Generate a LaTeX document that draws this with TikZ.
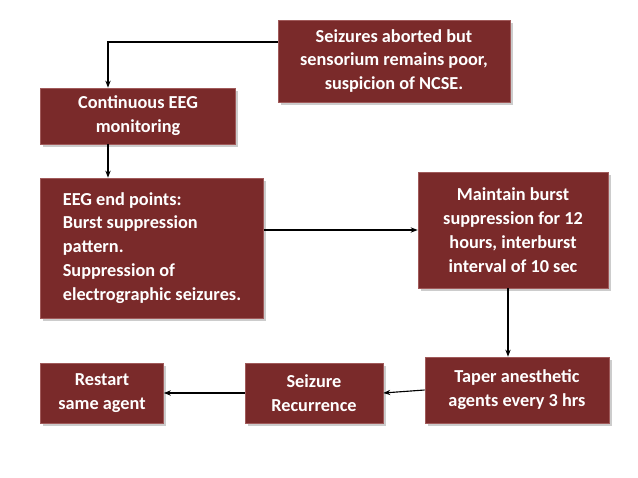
\documentclass[tikz,border=0pt]{standalone}
\usepackage{fontspec}
\setmainfont{Carlito}
\usetikzlibrary{arrows.meta, positioning, shadows}
\definecolor{boxred}{HTML}{7A2A2A}
\definecolor{boxline}{HTML}{A05A5A}

\begin{document}
\begin{tikzpicture}[
  x=0.025cm, y=-0.025cm,
  box/.style={rectangle, draw=boxline, fill=boxred, text=white, font=\fontsize{13}{17}\selectfont\bfseries,
    align=center, inner sep=2pt, drop shadow={opacity=0.4, shadow xshift=2pt, shadow yshift=-2pt}},
  arrow/.style={-{Stealth[length=5pt]}, thick}
]
\useasboundingbox (0,0) rectangle (638,478);

% Nodes
\node[box, minimum width=5.8cm, minimum height=2.05cm] (abort) at (394,61)
  {Seizures aborted but\\sensorium remains poor,\\suspicion of NCSE.};
\node[box, minimum width=4.875cm, minimum height=1.4cm] (eeg) at (138,116)
  {Continuous EEG\\monitoring};
\node[box, minimum width=5.575cm, minimum height=3.5cm, align=left] (ends) at (152,248)
  {EEG end points:\\Burst suppression\\pattern.\\Suppression of\\electrographic seizures.};
\node[box, minimum width=4.75cm, minimum height=2.9cm] (burst) at (513,230)
  {Maintain burst\\suppression for 12\\hours, interburst\\interval of 10 sec};
\node[box, minimum width=4.6cm, minimum height=1.65cm] (taper) at (517,390)
  {Taper anesthetic\\agents every 3 hrs};
\node[box, minimum width=3.45cm, minimum height=1.5cm] (recur) at (314,393)
  {Seizure\\Recurrence};
\node[box, minimum width=3.075cm, minimum height=1.5cm] (restart) at (102,393)
  {Restart\\same agent};

% Guide coordinates for the bends
\coordinate (left) at (108,42);
\coordinate (mid) at (0,230);
\coordinate (right) at (508,0);

% Connectors
\draw[arrow] (abort.west |- left) -- (left) -- (left |- eeg.north);
\draw[arrow] (left |- eeg.south) -- (left |- ends.north);
\draw[arrow] (ends.east |- mid) -- (burst.west |- mid);
\draw[arrow] (right |- burst.south) -- (right |- taper.north);
\draw[arrow] (taper.west) -- (recur.east);
\draw[arrow] (recur.west) -- (restart.east);

\end{tikzpicture}
\end{document}
